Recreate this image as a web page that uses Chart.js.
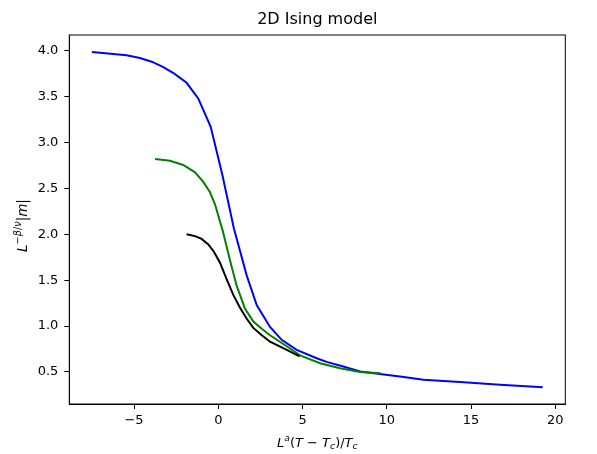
<!DOCTYPE html>
<html>
<head>
<meta charset="utf-8">
<script src="https://cdn.jsdelivr.net/npm/chart.js@4"></script>
<style>
  body { margin: 0; background: #fff; }
  #chart { display: block; }
</style>
</head>
<body>
<canvas id="chart" width="597" height="454"></canvas>
<script>
// scaled magnetisation, three lattice sizes
var blueX = [-7.5, -5.44, -4.65, -3.95, -3.26, -2.61, -1.88, -1.19, -0.45, 0.25, 0.93, 1.69, 2.28, 3.07, 3.76, 4.65, 5.84, 6.43, 7.42, 8.41, 9.7, 10.78, 12.17, 14.34, 16.72, 19.25]
var blueY = [3.985, 3.95, 3.92, 3.88, 3.82, 3.75, 3.65, 3.48, 3.17, 2.64, 2.06, 1.55, 1.23, 0.99, 0.85, 0.74, 0.65, 0.61, 0.56, 0.505, 0.475, 0.45, 0.415, 0.39, 0.36, 0.334]

var greenX = [-3.75, -2.87, -2.08, -1.38, -0.89, -0.5, -0.2, 0.26, 0.69, 1.09, 1.58, 2.08, 2.58, 3.07, 4.06, 4.85, 6.04, 7.22, 8.41, 9.63]
var greenY = [2.82, 2.8, 2.755, 2.675, 2.57, 2.46, 2.33, 2.04, 1.72, 1.44, 1.19, 1.05, 0.97, 0.9, 0.78, 0.68, 0.595, 0.54, 0.5, 0.486]

var blackX = [-1.88, -1.38, -0.99, -0.59, -0.26, 0.1, 0.5, 0.89, 1.29, 1.69, 2.08, 2.58, 3.07, 4.06, 4.82]
var blackY = [2.0, 1.98, 1.95, 1.89, 1.81, 1.69, 1.51, 1.34, 1.2, 1.08, 0.98, 0.9, 0.83, 0.74, 0.67]

var xMin = -8.84, xMax = 20.59, xStep = 5
var yMin = 0.151, yMax = 4.171, yStep = 0.5

var titleText = "2D Ising model"
// [text, style, level]  style i = italic, r = upright ; level 1 = sup, -1 = sub
var xLabel = [['L','i',0],['a','i',1],['(','r',0],['T','i',0],[' \u2212 ','r',0],['T','i',0],['c','i',-1],[')','r',0],['/','r',0],['T','i',0],['c','i',-1]]
var yLabel = [['L','i',0],['\u2212','r',1],['\u03b2','i',1],['/','r',1],['\u03bd','i',1],['|','r',0],['m','i',0],['|','r',0]]

function toPoints(xs, ys){
  return xs.map(function(x, i){ return {x: x, y: ys[i]} })
}

var FONT = '"DejaVu Sans", sans-serif'

function drawMath(ctx, runs, x, y, size){
  var items = runs.map(function(r){
    var s = r[2] ? size * 0.72 : size
    ctx.font = (r[1] == 'i' ? 'italic ' : '') + s + 'px ' + FONT
    return {t: r[0], f: ctx.font, lvl: r[2], w: ctx.measureText(r[0]).width}
  })
  var total = items.reduce(function(a, b){ return a + b.w }, 0)
  var cx = x - total / 2
  ctx.textAlign = 'left'
  ctx.textBaseline = 'alphabetic'
  items.forEach(function(it){
    ctx.font = it.f
    var dy = it.lvl == 1 ? -0.42 * size : (it.lvl == -1 ? 0.22 * size : 0)
    ctx.fillText(it.t, cx, y + dy)
    cx += it.w
  })
}

// frame + title + axis labels
var decor = {
  id: 'decor',
  afterDraw: function(chart){
    var ctx = chart.ctx
    var a = chart.chartArea
    ctx.save()
    ctx.strokeStyle = '#000'
    ctx.lineWidth = 1
    ctx.strokeRect(a.left, a.top, a.right - a.left, a.bottom - a.top)
    ctx.fillStyle = '#000'
    ctx.font = '16px ' + FONT
    ctx.textAlign = 'center'
    ctx.textBaseline = 'alphabetic'
    ctx.fillText(titleText, (a.left + a.right) / 2, 23.5)
    drawMath(ctx, xLabel, (a.left + a.right) / 2, 446.5, 13)
    ctx.translate(27, (a.top + a.bottom) / 2 + 6)
    ctx.rotate(-Math.PI / 2)
    drawMath(ctx, yLabel, 0, 0, 13.5)
    ctx.restore()
  }
}

function fmtX(v){ return v < 0 ? '\u2212' + Math.abs(v) : '' + v }
function fmtY(v){ return v.toFixed(1) }

var myChart = new Chart(document.querySelector('#chart'), {
  type: 'scatter',
  data: {
    datasets: [
      {label: 'black', data: toPoints(blackX, blackY), borderColor: '#000000', backgroundColor: '#000000'},
      {label: 'green', data: toPoints(greenX, greenY), borderColor: '#008000', backgroundColor: '#008000'},
      {label: 'blue', data: toPoints(blueX, blueY), borderColor: '#0000ff', backgroundColor: '#0000ff'}
    ]
  },
  options: {
    responsive: false,
    animation: false,
    showLine: true,
    elements: {
      point: {radius: 0, hoverRadius: 0},
      line: {borderWidth: 2, tension: 0, fill: false}
    },
    layout: {padding: {top: 35, right: 31.7, left: 0, bottom: 0}},
    plugins: {legend: {display: false}, tooltip: {enabled: false}, title: {display: false}},
    scales: {
      x: {
        type: 'linear', position: 'bottom', min: xMin, max: xMax,
        ticks: {stepSize: xStep, includeBounds: false, color: '#000', padding: 4,
                font: {family: FONT, size: 13}, maxRotation: 0, callback: fmtX},
        grid: {display: true, drawOnChartArea: false, drawTicks: true, tickLength: 5, color: '#000', lineWidth: 1},
        border: {display: true, color: '#000', width: 1},
        afterFit: function(s){ s.height = 50 }
      },
      y: {
        type: 'linear', position: 'left', min: yMin, max: yMax,
        ticks: {stepSize: yStep, includeBounds: false, color: '#000', padding: 6,
                font: {family: FONT, size: 13}, callback: fmtY},
        grid: {display: true, drawOnChartArea: false, drawTicks: true, tickLength: 5, color: '#000', lineWidth: 1},
        border: {display: true, color: '#000', width: 1},
        afterFit: function(s){ s.width = 69.3 }
      }
    }
  },
  plugins: [decor]
});
</script>
</body>
</html>
